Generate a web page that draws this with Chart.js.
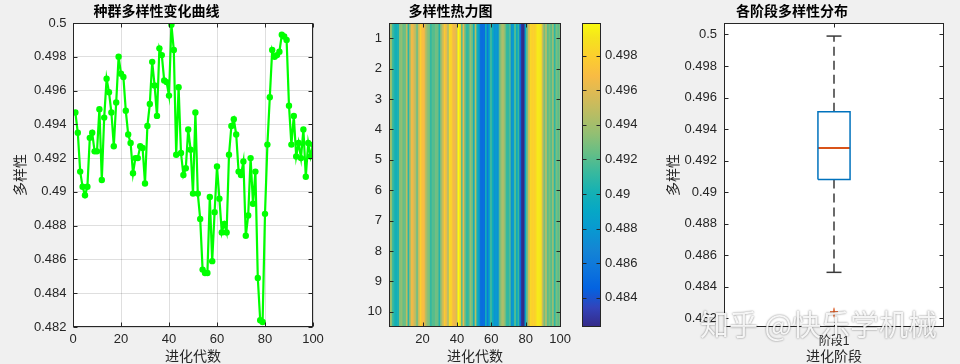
<!DOCTYPE html>
<html>
<head>
<meta charset="utf-8">
<script src="https://cdn.jsdelivr.net/npm/chart.js@4.4.0/dist/chart.umd.min.js"></script>
<style>
  html, body { margin: 0; padding: 0; background: #f0f0f0; }
  #wrap { position: relative; width: 960px; height: 364px; overflow: hidden; }
  canvas { position: absolute; top: 0; }
  #mark {
    position: absolute; left: 700px; top: 309px;
    font: 29px/1 'Noto Sans CJK SC', sans-serif;
    color: rgba(255,255,255,0.9);
    text-shadow: 0 0 2px rgba(0,0,0,0.55);
    white-space: nowrap;
  }
</style>
</head>
<body>
<div id="wrap">
  <canvas id="lineChart" width="340" height="364" style="left:0px"></canvas>
  <canvas id="heatChart" width="250" height="364" style="left:340px"></canvas>
  <canvas id="barChart" width="100" height="364" style="left:560px"></canvas>
  <canvas id="boxChart" width="320" height="364" style="left:640px"></canvas>
  <div id="mark">知乎 @快乐学机械</div>
</div>
<script>
// generations 1..100
const generations = [
  1, 2, 3, 4, 5, 6, 7, 8, 9, 10, 11, 12, 13, 14, 15, 16, 17, 18, 19, 20,
  21, 22, 23, 24, 25, 26, 27, 28, 29, 30, 31, 32, 33, 34, 35, 36, 37, 38, 39, 40,
  41, 42, 43, 44, 45, 46, 47, 48, 49, 50, 51, 52, 53, 54, 55, 56, 57, 58, 59, 60,
  61, 62, 63, 64, 65, 66, 67, 68, 69, 70, 71, 72, 73, 74, 75, 76, 77, 78, 79, 80,
  81, 82, 83, 84, 85, 86, 87, 88, 89, 90, 91, 92, 93, 94, 95, 96, 97, 98, 99, 100
];

// diversity per generation
const diversity = [
  0.4947, 0.4935, 0.4912, 0.4903, 0.4898, 0.4903, 0.4932, 0.4935, 0.4924, 0.4924,
  0.4949, 0.4907, 0.4944, 0.4967, 0.4959, 0.4947, 0.4927, 0.4953, 0.4980, 0.4970,
  0.4968, 0.4948, 0.4934, 0.4929, 0.4911, 0.4920, 0.4920, 0.4927, 0.4926, 0.4905,
  0.4939, 0.4952, 0.4977, 0.4963, 0.4945, 0.4985, 0.4981, 0.4966, 0.4965, 0.4957,
  0.4999, 0.4984, 0.4922, 0.4962, 0.4923, 0.4910, 0.4914, 0.4937, 0.4925, 0.4899,
  0.4947, 0.4899, 0.4884, 0.4854, 0.4852, 0.4852, 0.4897, 0.4859, 0.4888, 0.4915,
  0.4896, 0.4876, 0.4881, 0.4876, 0.4922, 0.4939, 0.4943, 0.4934, 0.4912, 0.4910,
  0.4918, 0.4874, 0.4886, 0.4920, 0.4893, 0.4912, 0.4849, 0.4824, 0.4823, 0.4887,
  0.4928, 0.4956, 0.4984, 0.4980, 0.4981, 0.4983, 0.4993, 0.4992, 0.4990, 0.4951,
  0.4928, 0.4945, 0.4921, 0.4929, 0.4920, 0.4937, 0.4909, 0.4929, 0.4921, 0.4928
];

// heatmap rows
const heatRows = [1, 2, 3, 4, 5, 6, 7, 8, 9, 10];

// box plot: [lower whisker, q1, median, q3, upper whisker] and outliers
const boxCategories = ['阶段1'];
const boxStats = [0.4849, 0.4908, 0.4928, 0.4951, 0.4999];
const boxOutliers = [0.4824, 0.4823];

// tick labels
const lineXTicks = [0, 20, 40, 60, 80, 100];
const lineYTicks = [0.482, 0.484, 0.486, 0.488, 0.49, 0.492, 0.494, 0.496, 0.498, 0.5];
const heatXTicks = [20, 40, 60, 80, 100];
const cbarTicks = [0.484, 0.486, 0.488, 0.49, 0.492, 0.494, 0.496, 0.498];
const boxYTicks = lineYTicks;

// colour limits of the heatmap = data range
const cMin = Math.min(...diversity);
const cMax = Math.max(...diversity);

// parula colormap (sampled)
const parulaStops = [
  [0.2081, 0.1663, 0.5292], [0.1959, 0.2645, 0.7279], [0.0117, 0.3875, 0.8820],
  [0.0498, 0.4586, 0.8641], [0.0793, 0.5200, 0.8312], [0.0343, 0.5966, 0.8199],
  [0.0228, 0.6535, 0.7768], [0.0843, 0.6928, 0.7062], [0.2178, 0.7250, 0.6193],
  [0.3953, 0.7459, 0.5244], [0.5709, 0.7485, 0.4494], [0.7184, 0.7411, 0.3905],
  [0.8507, 0.7299, 0.3360], [0.9739, 0.7314, 0.2666], [0.9880, 0.8066, 0.1794],
  [0.9589, 0.8949, 0.1132], [0.9763, 0.9831, 0.0538]
];
const parulaPos = [0, 4, 8, 12, 16, 20, 24, 28, 32, 36, 40, 44, 48, 52, 56, 60, 63].map(i => i / 63);

function parulaAt(t) {
  t = Math.max(0, Math.min(1, t));
  let k = 0;
  while (k < parulaPos.length - 2 && t > parulaPos[k + 1]) k++;
  const f = (t - parulaPos[k]) / (parulaPos[k + 1] - parulaPos[k]);
  const a = parulaStops[k], b = parulaStops[k + 1];
  const c = a.map((v, j) => Math.round(255 * (v + (b[j] - v) * f)));
  return `rgb(${c[0]},${c[1]},${c[2]})`;
}
function parula(v) { return parulaAt((v - cMin) / (cMax - cMin)); }

Chart.defaults.font.family = "'Liberation Sans', 'Noto Sans CJK SC', sans-serif";
Chart.defaults.color = '#262626';

const ink = '#262626';
const gridColor = 'rgba(38,38,38,0.15)';
const noGrid = {display: false, drawTicks: false};
const fmt = v => String(+(+v).toFixed(3));

// white axes background, black box and inward ticks like matlab
const axesBox = {
  id: 'axesBox',
  beforeDraw(chart, args, opts) {
    if (!opts.fill) return;
    const {ctx, chartArea: a} = chart;
    ctx.save();
    ctx.fillStyle = opts.fill;
    ctx.fillRect(a.left, a.top, a.right - a.left, a.bottom - a.top);
    ctx.restore();
  },
  afterDraw(chart) {
    const {ctx, chartArea: a} = chart;
    const L = Math.round(a.left) + 0.5, R = Math.round(a.right) - 0.5;
    const T = Math.round(a.top) + 0.5, B = Math.round(a.bottom) - 0.5;
    ctx.save();
    ctx.strokeStyle = ink;
    ctx.lineWidth = 1;
    ctx.beginPath();
    for (const s of Object.values(chart.scales)) {
      if (!s.options.display) continue;
      for (const t of s.ticks) {
        const p = Math.round(s.getPixelForValue(t.value)) + 0.5;
        if (s.isHorizontal()) {
          ctx.moveTo(p, B); ctx.lineTo(p, B - 4);
          ctx.moveTo(p, T); ctx.lineTo(p, T + 4);
        } else {
          ctx.moveTo(L, p); ctx.lineTo(L + 4, p);
          ctx.moveTo(R, p); ctx.lineTo(R - 4, p);
        }
      }
    }
    ctx.stroke();
    ctx.strokeRect(L, T, R - L, B - T);
    ctx.restore();
  }
};

const titleOpts = text => ({
  display: true, text, color: '#000',
  font: {size: 14, weight: 'bold', lineHeight: 1.2},
  padding: {top: 4.2, bottom: 2}
});
const xTitle = text => ({display: true, text, color: ink, font: {size: 14, lineHeight: 1}, padding: {top: 0, bottom: 0}});
const yTitle = (text, pad) => ({display: true, text, color: ink, font: {size: 14, lineHeight: 1.2}, padding: {top: pad, bottom: 0}});
const setTicks = arr => s => { s.ticks = arr.map(v => ({value: v})); };
const tickFont = {size: 13};

// 1) line chart
new Chart(document.getElementById('lineChart'), {
  type: 'line',
  data: {
    datasets: [{
      data: generations.map((g, i) => ({x: g, y: diversity[i]})),
      borderColor: '#00ff00',
      backgroundColor: '#00ff00',
      borderWidth: 2.2,
      pointRadius: 3.2,
      pointBorderWidth: 0,
      tension: 0
    }]
  },
  options: {
    responsive: false, animation: false, devicePixelRatio: 1,
    layout: {padding: {right: 27}},
    plugins: {legend: {display: false}, tooltip: {enabled: false},
      title: titleOpts('种群多样性变化曲线'), axesBox: {fill: '#fff'}},
    scales: {
      x: {
        type: 'linear', min: 0, max: 100,
        afterBuildTicks: setTicks(lineXTicks),
        afterFit: s => { s.height = 37; },
        grid: {color: gridColor, drawTicks: false},
        border: {display: false},
        ticks: {font: tickFont, color: ink, padding: 5},
        title: xTitle('进化代数')
      },
      y: {
        type: 'linear', min: 0.482, max: 0.5,
        afterBuildTicks: setTicks(lineYTicks),
        afterFit: s => { s.width = 73; },
        grid: {color: gridColor, drawTicks: false},
        border: {display: false},
        ticks: {font: tickFont, color: ink, padding: 6.5, callback: fmt},
        title: yTitle('多样性', 13)
      }
    }
  },
  plugins: [axesBox]
});

// 2) heatmap: one column per generation, spanning all rows
new Chart(document.getElementById('heatChart'), {
  type: 'bar',
  data: {
    datasets: [{
      data: generations.map(g => ({x: g, y: [heatRows[0] - 0.5, heatRows[heatRows.length - 1] + 0.5]})),
      backgroundColor: diversity.map(parula),
      borderWidth: 0,
      barThickness: 2.4,
      inflateAmount: 0
    }]
  },
  options: {
    responsive: false, animation: false, devicePixelRatio: 1,
    layout: {padding: {right: 29}},
    plugins: {legend: {display: false}, tooltip: {enabled: false},
      title: titleOpts('多样性热力图'), axesBox: {}},
    scales: {
      x: {
        type: 'linear', min: 0.5, max: 100.5, offset: false,
        afterBuildTicks: setTicks(heatXTicks),
        afterFit: s => { s.height = 37; },
        grid: {display: false, drawTicks: false, offset: false},
        border: {display: false},
        ticks: {font: tickFont, color: ink, padding: 5},
        title: xTitle('进化代数')
      },
      y: {
        type: 'linear', min: 0.5, max: 10.5, reverse: true,
        afterBuildTicks: setTicks(heatRows),
        afterFit: s => { s.width = 49; },
        grid: noGrid,
        border: {display: false},
        ticks: {font: tickFont, color: ink, padding: 7}
      }
    }
  },
  plugins: [axesBox]
});

// 3) colorbar
function cbarGradient(chart) {
  const a = chart.chartArea;
  if (!a) return null;
  const g = chart.ctx.createLinearGradient(0, a.bottom, 0, a.top);
  parulaStops.forEach((c, i) => {
    g.addColorStop(parulaPos[i], `rgb(${Math.round(c[0] * 255)},${Math.round(c[1] * 255)},${Math.round(c[2] * 255)})`);
  });
  return g;
}
new Chart(document.getElementById('barChart'), {
  type: 'bar',
  data: {
    labels: [''],
    datasets: [{
      data: [[cMin, cMax]],
      backgroundColor: ctx => cbarGradient(ctx.chart),
      borderWidth: 0,
      barPercentage: 1,
      categoryPercentage: 1
    }]
  },
  options: {
    responsive: false, animation: false, devicePixelRatio: 1,
    layout: {padding: {top: 23, bottom: 37, left: 22}},
    plugins: {legend: {display: false}, tooltip: {enabled: false}, axesBox: {}},
    scales: {
      x: {display: false},
      y: {
        position: 'right', min: cMin, max: cMax,
        afterBuildTicks: setTicks(cbarTicks),
        afterFit: s => { s.width = 59; },
        grid: noGrid,
        border: {display: false},
        ticks: {font: tickFont, color: ink, padding: 4, callback: fmt}
      }
    }
  },
  plugins: [axesBox]
});

// 4) box plot
const [wLo, q1, med, q3, wHi] = boxStats;
const bx = 1, half = 0.073, cap = 0.034;
const whisker = {borderColor: '#3a3a3a', borderWidth: 1.5, borderDash: [9, 5], pointRadius: 0};
const capLine = {borderColor: '#3a3a3a', borderWidth: 1.5, pointRadius: 0};
new Chart(document.getElementById('boxChart'), {
  type: 'line',
  data: {
    datasets: [
      {data: [{x: bx - half, y: q1}, {x: bx + half, y: q1}, {x: bx + half, y: q3}, {x: bx - half, y: q3}, {x: bx - half, y: q1}],
       borderColor: '#0072bd', borderWidth: 1.5, pointRadius: 0},
      {data: [{x: bx - half, y: med}, {x: bx + half, y: med}], borderColor: '#d95319', borderWidth: 2, pointRadius: 0},
      {data: [{x: bx, y: q3}, {x: bx, y: wHi}], ...whisker},
      {data: [{x: bx, y: q1}, {x: bx, y: wLo}], ...whisker},
      {data: [{x: bx - cap, y: wHi}, {x: bx + cap, y: wHi}], ...capLine},
      {data: [{x: bx - cap, y: wLo}, {x: bx + cap, y: wLo}], ...capLine},
      {data: boxOutliers.map(v => ({x: bx, y: v})), showLine: false, pointStyle: 'cross',
       pointRadius: 4, pointBorderColor: '#d95319', pointBorderWidth: 1}
    ]
  },
  options: {
    responsive: false, animation: false, devicePixelRatio: 1,
    layout: {padding: {right: 16}},
    plugins: {legend: {display: false}, tooltip: {enabled: false},
      title: titleOpts('各阶段多样性分布'), axesBox: {fill: '#fff'}},
    scales: {
      x: {
        type: 'linear', min: 0.5, max: 1.5,
        afterBuildTicks: setTicks([bx]),
        afterFit: s => { s.height = 37; },
        grid: noGrid,
        border: {display: false},
        ticks: {font: {size: 12}, color: ink, padding: 7.5, callback: (v, i) => boxCategories[i]},
        title: xTitle('进化阶段')
      },
      y: {
        type: 'linear', min: 0.48143, max: 0.50073,
        afterBuildTicks: setTicks(boxYTicks),
        afterFit: s => { s.width = 84; },
        grid: noGrid,
        border: {display: false},
        ticks: {font: tickFont, color: ink, padding: 7, callback: fmt},
        title: yTitle('多样性', 25.5)
      }
    }
  },
  plugins: [axesBox]
});
</script>
</body>
</html>
